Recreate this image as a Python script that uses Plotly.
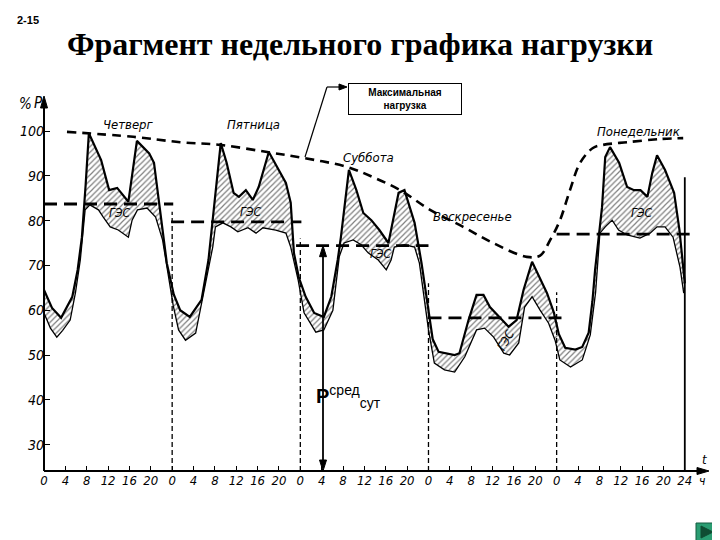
import plotly.graph_objects as go

# ---------------- data (hours from Thursday 0:00, load in % of P) ----------------
total_hours = [0, 1.5, 3.2, 5.3, 6.3, 7.1, 7.8, 8.4, 10.7, 12.2, 13.7, 14.6, 15.8, 17.4, 19.7, 20.6, 21.6, 23.0,
               24.3, 25.5, 27.3, 29.5, 30.8, 31.6, 33.1, 34.2, 35.5, 36.5, 37.8, 39.1, 40.2, 42.1, 44.0, 45.3, 46.2, 46.8,
               47.7, 49.0, 50.6, 52.4, 53.8, 55.0, 55.6, 57.1, 58.5, 59.8, 61.3, 62.8, 64.5, 66.4, 67.5, 69.4, 70.7,
               72.0, 72.8, 73.9, 76.9, 77.8, 79.5, 81.0, 82.3, 83.5, 85.2, 87.0, 88.5, 89.8, 91.4, 92.7, 94.2, 95.5,
               96.4, 97.6, 99.5, 100.8, 102.0, 102.7, 103.2, 104.5, 105.1, 106.0, 107.7, 109.2, 110.5, 111.7, 113.0,
               113.9, 114.8, 116.3, 118.0, 119.0, 119.6, 120.0]
total_load = [64.5, 60.5, 58.3, 63, 69, 76.3, 88, 99.5, 93.5, 86.8, 87.3, 86, 84.2, 97.8, 95, 92.9, 84, 70.5,
              63.5, 60, 58.5, 62.3, 71.2, 80, 97.3, 92.9, 86.2, 85.3, 86.8, 84.6, 87.5, 95.3, 91.3, 88.4, 84, 72.8,
              67.4, 63, 59.4, 58.5, 63, 71.2, 76.3, 91.3, 86.8, 81.7, 80.1, 77.9, 75, 86.2, 86.8, 79.5, 70.5,
              60, 53.5, 50.7, 50, 50.4, 57.8, 63.4, 63.4, 60.7, 58.5, 56.3, 57.8, 64.5, 70.8, 67.4, 63.8, 59.4,
              54.7, 51.6, 51.2, 51.8, 55, 62, 69, 83, 94.2, 96.4, 92.9, 87.5, 86.8, 86.8, 85.3,
              90.6, 94.6, 91.3, 86.2, 77.9, 70.5, 66]

base_hours = [0, 1.2, 2.4, 3.5, 4.9, 5.9, 6.8, 7.7, 8.6, 10.2, 11.1, 12.4, 13.9, 15.8, 16.5, 17.5, 19.3, 20.9, 22.2,
              23.3, 24.2, 25.2, 26.5, 28.4, 29.9, 31.6, 32.1, 33.5, 35.0, 36.3, 38.2, 39.7, 41.0, 43.4, 45.3, 46.2,
              47.6, 48.7, 50.9, 52.4, 54.1, 55.3, 56.2, 57.9, 59.4, 60.7, 62.6, 64.1, 65.0, 65.6, 67.5, 69.4, 70.3,
              71.2, 72.0, 73.1, 75.0, 76.9, 78.8, 81.0, 82.5, 84.2, 86.1, 87.2, 88.9, 90.0, 91.4, 92.9, 94.5, 95.7,
              96.6, 98.6, 100.8, 102.3, 103.3, 104.1, 105.1, 106.4, 107.6, 109.2, 111.6, 113.5, 114.8, 116.3, 117.8,
              119.1, 119.8]
base_load = [59.4, 56, 54, 55.5, 57.8, 64, 71.2, 82.4, 83.5, 82.4, 80.8, 78.6, 77.9, 76.3, 80.1, 82.4, 82.8, 80.8, 75.7,
             68, 61, 55.6, 53.3, 54.9, 63.8, 74.1, 78.6, 79.5, 78.6, 77.5, 78.4, 77.2, 78.4, 77.9, 77.2, 74.1,
             66.7, 59.4, 55.1, 55.6, 60, 72, 75, 75.7, 74.6, 72.8, 71.2, 69, 71.2, 74.1, 74.6, 74.1, 70.5,
             62.3, 55.6, 48.2, 46.7, 46.2, 49.6, 55.6, 56, 54, 50.4, 50, 52.7, 60.7, 63, 60, 57.1, 53.3,
             48.9, 47.3, 48.9, 54.5, 64, 77.2, 78.6, 80.1, 77.9, 76.8, 76.1, 77.2, 78.6, 78.6, 76.3,
             69.6, 63.8]

max_hours = [4.3, 16.7, 25.5, 33.0, 41.8, 48.5, 56.7, 61.6, 66.7, 72.3, 78.5, 84.1, 90.4, 92.9, 94.8, 96.6, 98.5,
             100.4, 102.8, 104.7, 109.2, 115.4, 119.7]
max_load = [99.8, 98.7, 97.5, 96.9, 95.3, 94.0, 92.0, 89.7, 86.8, 82.4, 78.6, 75.0, 71.9, 72.2, 75.7, 80.0, 86.8,
            92.9, 96.2, 96.9, 97.5, 98.2, 98.4]

day_names = ["Четверг", "Пятница", "Суббота", "Воскресенье", "Понедельник"]
avg_start = [0, 23.8, 47.2, 72.0, 96.0]
avg_end = [24.2, 48.2, 72.0, 97.4, 121.0]
avg_load = [83.7, 79.7, 74.4, 58.3, 77.0]
separator_hours = [24, 48, 72, 96]
separator_top = [82, 76, 66, 64]

y_ticks = [30, 40, 50, 60, 70, 80, 90, 100]
hour_labels = ["0", "4", "8", "12", "16", "20"]
x_tickvals = list(range(0, 121, 4))
x_ticktext = hour_labels * 5 + ["24"]

# ---------------- geometry (page body has an 8px margin) ----------------
OFF = 8
W, H = 720 - OFF, 540 - OFF
X0, SX = 44.0 - OFF, 5.34       # figure pixel of hour 0, pixels per hour
Y100, SY = 131.0 - OFF, 4.48    # figure pixel of 100 %, pixels per %
XMIN, XMAX = -X0 / SX, (W - X0) / SX
YMIN, YMAX = 100 - (H - Y100) / SY, 100 + Y100 / SY
V_AXIS = 24.1


def P(px, py):
    """screen pixel -> paper coords"""
    return (px - OFF) / W, 1 - (py - OFF) / H


def data_py(v):
    """load value -> screen pixel row"""
    return Y100 + OFF + (100 - v) * SY


hand = dict(family="Liberation Sans Narrow, DejaVu Sans Condensed, Liberation Sans, Arial", color="black")

fig = go.Figure()

# lower boundary (load without hydro)
fig.add_trace(go.Scatter(x=base_hours, y=base_load, mode="lines",
                         line=dict(color="black", width=1.3), hoverinfo="skip", showlegend=False))
# total load, hatched between
fig.add_trace(go.Scatter(x=total_hours, y=total_load, mode="lines",
                         line=dict(color="black", width=2.2), fill="tonexty",
                         fillcolor="rgba(0,0,0,0)",
                         fillpattern=dict(shape="/", fgcolor="black", bgcolor="rgba(0,0,0,0)",
                                          size=4, solidity=0.3),
                         hoverinfo="skip", showlegend=False))
# maximum load envelope
fig.add_trace(go.Scatter(x=max_hours, y=max_load, mode="lines", line_shape="spline",
                         line=dict(color="black", width=2.6, dash="9px,6px"),
                         hoverinfo="skip", showlegend=False))
# daily average lines
for s, e, v in zip(avg_start, avg_end, avg_load):
    fig.add_trace(go.Scatter(x=[s, e], y=[v, v], mode="lines",
                             line=dict(color="black", width=2.8, dash="13px,7px"),
                             hoverinfo="skip", showlegend=False))
# day separators
for hx, top in zip(separator_hours, separator_top):
    fig.add_trace(go.Scatter(x=[hx, hx], y=[V_AXIS, top], mode="lines",
                             line=dict(color="black", width=1.3, dash="5px,3px"),
                             hoverinfo="skip", showlegend=False))
# end line of the week fragment
fig.add_trace(go.Scatter(x=[120, 120], y=[V_AXIS, 89.7], mode="lines",
                         line=dict(color="black", width=1.8), hoverinfo="skip", showlegend=False))

shapes = []


def seg(p0, p1, w=2.0):
    a, b = P(*p0), P(*p1)
    shapes.append(dict(type="line", xref="paper", yref="paper", x0=a[0], y0=a[1], x1=b[0], y1=b[1],
                       line=dict(color="black", width=w)))


def tri(p0, p1, p2, color="black"):
    a, b, c = P(*p0), P(*p1), P(*p2)
    shapes.append(dict(type="path", xref="paper", yref="paper",
                       path=f"M {a[0]} {a[1]} L {b[0]} {b[1]} L {c[0]} {c[1]} Z",
                       fillcolor=color, line=dict(color=color, width=1)))


# axes with arrowheads
seg((44, 471), (44, 104))
tri((44, 96), (40.5, 108), (47.5, 108))
seg((44, 471), (700, 471))
tri((709, 471), (697, 467.5), (697, 474.5))
# P average double arrow (top at the Saturday average)
ytop = data_py(avg_load[2])
seg((323, ytop + 6), (323, 465), 1.8)
tri((323, ytop), (319.5, ytop + 11), (326.5, ytop + 11))
tri((323, 471), (319.5, 460), (326.5, 460))
# leader from the maximum-load envelope to the caption box
seg((305, 157), (327, 87), 1.2)
seg((327, 87), (340, 87), 1.2)
tri((347, 87), (339, 84), (339, 90))

# navigation button (bottom right)
b0, b1 = P(696, 523), P(722, 542)
shapes.append(dict(type="rect", xref="paper", yref="paper", x0=b0[0], y0=b1[1], x1=b1[0], y1=b0[1],
                   fillcolor="#2a9d72", line=dict(color="#145c40", width=1)))
tri((701, 526), (701, 538), (713, 532), "#0f4d33")

ann = []


def text_px(txt, px, py, font, angle=0, **kw):
    x_, y_ = P(px, py)
    d = dict(x=x_, y=y_, xref="paper", yref="paper", text=txt, showarrow=False,
             xanchor="center", yanchor="middle", textangle=angle, font=font)
    d.update(kw)
    ann.append(d)


text_px("<b>P</b><sup>сред</sup><sub>сут</sub>", 348, 396,
        dict(family="Liberation Sans, Arial", size=20, color="black"))

# day labels
day_px = [(128, 124), (253, 124), (368, 157), (473, 216), (638, 132)]
for name, (px, py) in zip(day_names, day_px):
    text_px(name, px, py, dict(size=13, style="italic", **hand))
# hydro (ГЭС) labels
ges_px = [(120, 213), (251, 212), (381, 254), (506, 340, -60), (642, 213)]
for item in ges_px:
    px, py = item[0], item[1]
    ang = item[2] if len(item) > 2 else 0
    text_px("ГЭС", px, py, dict(size=12, style="italic", **hand), angle=ang)

# caption box
text_px("<b>Максимальная<br>нагрузка</b>", 405, 99,
        dict(family="Liberation Sans, Arial", size=10, color="black"),
        width=110, height=28, borderpad=1, bordercolor="black", borderwidth=1, bgcolor="white")

# axis captions
text_px("%", 25, 104, dict(size=15, style="italic", **hand))
text_px("P", 38, 103, dict(size=15, style="italic", **hand))
text_px("t", 704, 459, dict(size=13, style="italic", **hand))
text_px("ч", 702, 481, dict(size=12, style="italic", **hand))

# title and slide number
text_px("<b>Фрагмент недельного графика нагрузки</b>", 360, 44,
        dict(family="Liberation Serif, Times New Roman", size=32, color="black"))
text_px("<b>2-15</b>", 28, 20, dict(family="Liberation Sans, Arial", size=11, color="black"))

tick_font = dict(size=13, style="italic", **hand)
fig.update_layout(
    width=W, height=H, margin=dict(l=0, r=0, t=0, b=0),
    paper_bgcolor="white", plot_bgcolor="white", showlegend=False,
    xaxis=dict(range=[XMIN, XMAX], domain=[0, 1], anchor="free", position=1 - (471 - OFF) / H,
               showgrid=False, zeroline=False, showline=False,
               tickmode="array", tickvals=x_tickvals, ticktext=x_ticktext,
               ticks="inside", ticklen=5, tickwidth=1.3, tickcolor="black", tickfont=tick_font),
    yaxis=dict(range=[YMIN, YMAX], domain=[0, 1], anchor="free", position=X0 / W,
               showgrid=False, zeroline=False, showline=False,
               tickmode="array", tickvals=y_ticks, ticks="inside", ticklen=5, tickwidth=1.3,
               tickcolor="black", tickfont=dict(size=14, style="italic", **hand)),
    annotations=ann, shapes=shapes,
)

fig.write_html("out.html")
